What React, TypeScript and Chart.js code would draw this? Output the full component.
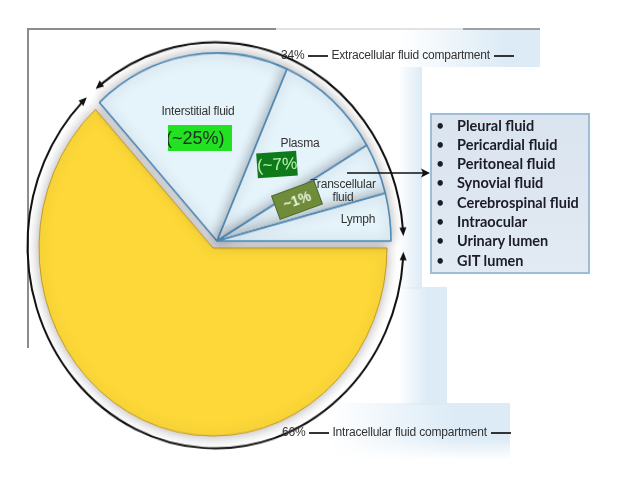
import React, { useEffect, useRef } from "react";
import { Chart, registerables } from "chart.js";

Chart.register(...registerables);

// ---- data ----
const compartments = ["Intracellular fluid", "Interstitial fluid", "Plasma", "Transcellular fluid", "Lymph"];
const sliceShares = [63.2, 18.4, 9.9, 4.4, 4.1];
const isExtracellular = [false, true, true, true, true];
const compartmentTotals = ["34%", "66%"];
const compartmentTitles = ["Extracellular fluid compartment", "Intracellular fluid compartment"];
const badgeTexts = ["(~25%)", "(~7%", "~1%"];
const transcellularFluids = [
  "Pleural fluid",
  "Pericardial fluid",
  "Peritoneal fluid",
  "Synovial fluid",
  "Cerebrospinal fluid",
  "Intraocular",
  "Urinary lumen",
  "GIT lumen",
];

// ---- style ----
const SIZE = 420;
const RADIUS = 174;
const STRETCH = 1.08;
const YELLOW = "#fdd838";
const YELLOW_LINE = "#c49a22";
const BLUE_FILL = "#e5f3fb";
const BLUE_LINE = "#4f89b4";
const SANS = '"Liberation Sans", Arial, Helvetica, sans-serif';
const BOLD = 'Lato, "Open Sans", sans-serif';

const arcPlugin = {
  id: "compartmentArcs",
  beforeDatasetsDraw(chart: any) {
    const ctx = chart.ctx;
    ctx.save();
    ctx.shadowColor = "rgba(60,60,70,0.4)";
    ctx.shadowBlur = 12;
    ctx.shadowOffsetX = 0;
    ctx.shadowOffsetY = 0;
  },
  afterDatasetsDraw(chart: any, _args: any, opts: any) {
    const ctx = chart.ctx;
    ctx.restore();
    if (!opts || !opts.arcs) return;
    const ca = chart.chartArea;
    const cx = (ca.left + ca.right) / 2 + 2.5;
    const cy = (ca.top + ca.bottom) / 2 - 2.5;
    const r = 188;
    const deg = Math.PI / 180;
    const ranges = [
      [-129.6, -2.6],
      [1.8, 226.8],
    ];
    ctx.save();
    ctx.strokeStyle = "#111";
    ctx.fillStyle = "#111";
    ctx.lineWidth = 2;
    const head = (a: number, dir: number) => {
      const tx = cx + r * Math.cos(a);
      const ty = cy + r * Math.sin(a);
      const dx = -Math.sin(a) * dir;
      const dy = Math.cos(a) * dir;
      const len = 8;
      const hw = 3.5;
      const bx = tx - dx * len;
      const by = ty - dy * len;
      const nx = Math.cos(a);
      const ny = Math.sin(a);
      ctx.beginPath();
      ctx.moveTo(tx, ty);
      ctx.lineTo(bx + nx * hw, by + ny * hw);
      ctx.lineTo(bx - nx * hw, by - ny * hw);
      ctx.closePath();
      ctx.fill();
    };
    for (const [a0, a1] of ranges) {
      const h = 6 / r;
      ctx.beginPath();
      ctx.arc(cx, cy, r, a0 * deg + h, a1 * deg - h);
      ctx.stroke();
      head(a0 * deg, -1);
      head(a1 * deg, 1);
    }
    ctx.restore();
  },
};

function makeChart(canvas: HTMLCanvasElement, extra: boolean) {
  const pick = (e: boolean, a: any, b: any, none: any) => (e === extra ? (e ? a : b) : none);
  return new Chart(canvas, {
    type: "pie",
    data: {
      labels: compartments,
      datasets: [
        {
          data: sliceShares,
          backgroundColor: isExtracellular.map((e) => pick(e, BLUE_FILL, YELLOW, "rgba(0,0,0,0)")),
          borderColor: isExtracellular.map((e) => pick(e, BLUE_LINE, YELLOW_LINE, "rgba(0,0,0,0)")),
          borderWidth: isExtracellular.map((e) => pick(e, 1.6, 1, 0)),
          radius: RADIUS,
        } as any,
      ],
    },
    options: {
      responsive: false,
      animation: false,
      events: [],
      rotation: 90,
      layout: { padding: 0 },
      plugins: {
        legend: { display: false },
        tooltip: { enabled: false },
        compartmentArcs: { arcs: !extra },
      } as any,
    },
    plugins: [arcPlugin as any],
  });
}

const abs = (s: React.CSSProperties): React.CSSProperties => ({ position: "absolute", ...s });

function Label({ x, y, text }: { x: number; y: number; text: string }) {
  return (
    <div
      style={abs({
        left: x,
        top: y,
        transform: "translate(-50%, -50%)",
        fontFamily: SANS,
        fontSize: 12,
        letterSpacing: -0.2,
        lineHeight: 1,
        color: "#333",
        whiteSpace: "nowrap",
      })}
    >
      {text}
    </div>
  );
}

function TitleRow({ x, top, pct, title }: { x: number; top: number; pct: string; title: string }) {
  const line: React.CSSProperties = {
    display: "inline-block",
    width: 20,
    height: 1.5,
    background: "#333",
    verticalAlign: "middle",
    margin: "0 3px 0 4px",
  };
  return (
    <div
      style={abs({
        left: x,
        top,
        fontFamily: SANS,
        fontSize: 12,
        letterSpacing: -0.2,
        lineHeight: "13px",
        color: "#333",
        whiteSpace: "nowrap",
      })}
    >
      <span>{pct}</span>
      <span style={line} />
      <span>{title}</span>
      <span style={line} />
    </div>
  );
}

export default function App() {
  const yRef = useRef<HTMLCanvasElement>(null);
  const bRef = useRef<HTMLCanvasElement>(null);

  useEffect(() => {
    const c1 = makeChart(yRef.current as HTMLCanvasElement, false);
    const c2 = makeChart(bRef.current as HTMLCanvasElement, true);
    return () => {
      c1.destroy();
      c2.destroy();
    };
  }, []);

  const wrap = (left: number, top: number): React.CSSProperties =>
    abs({
      left,
      top,
      width: SIZE,
      height: SIZE,
      transform: `scaleY(${STRETCH})`,
      transformOrigin: `${SIZE / 2}px ${SIZE / 2}px`,
    });

  const pale = "#dcebf6";
  return (
    <div style={{ position: "fixed", left: 0, top: 0, width: 638, height: 478, background: "#fff", overflow: "hidden" }}>
      {/* background panels */}
      <div style={abs({ left: 400, top: 29, width: 140, height: 38, background: `linear-gradient(to right, rgba(220,235,246,0), ${pale} 75%)` })} />
      <div style={abs({ left: 398, top: 67, width: 24, height: 222, background: `linear-gradient(to right, rgba(220,235,246,0), ${pale})` })} />
      <div style={abs({ left: 398, top: 287, width: 49, height: 118, background: `linear-gradient(to right, rgba(220,235,246,0), ${pale} 60%)` })} />
      <div style={abs({ left: 330, top: 403, width: 180, height: 57, background: `linear-gradient(to right, rgba(220,235,246,0), ${pale} 70%)` })} />
      <div style={abs({ left: 330, top: 438, width: 180, height: 22, background: "linear-gradient(to bottom, rgba(255,255,255,0), #fff)" })} />
      {/* frame lines */}
      <div style={abs({ left: 28, top: 28, width: 248, height: 1.5, background: "#8c8c8c" })} />
      <div style={abs({ left: 276, top: 28, width: 187, height: 1.5, background: "#e2e2e2" })} />
      <div style={abs({ left: 463, top: 28, width: 77, height: 1.5, background: "#a0a0a0" })} />
      <div style={abs({ left: 27, top: 28, width: 1.5, height: 320, background: "#8c8c8c" })} />

      {/* charts */}
      <div style={wrap(3, 38)}>
        <canvas ref={yRef} width={SIZE} height={SIZE} />
      </div>
      <div style={wrap(7, 31)}>
        <canvas ref={bRef} width={SIZE} height={SIZE} />
      </div>

      {/* slice labels */}
      <Label x={198} y={110.5} text={compartments[1]} />
      <Label x={300} y={142.5} text={compartments[2]} />
      <Label x={343} y={183.5} text="Transcellular" />
      <Label x={343} y={196.5} text="fluid" />
      <Label x={358} y={218.5} text={compartments[4]} />

      {/* badges */}
      <div
        style={abs({
          left: 168,
          top: 125,
          width: 64,
          height: 26,
          background: "#22e022",
          overflow: "hidden",
          fontFamily: SANS,
          fontSize: 18,
          lineHeight: "26px",
          color: "#1c2e1c",
          whiteSpace: "nowrap",
          textIndent: -2,
        })}
      >
        {badgeTexts[0]}
      </div>
      <div
        style={abs({
          left: 257,
          top: 152,
          width: 40,
          height: 25,
          background: "#0f7a1a",
          overflow: "hidden",
          fontFamily: SANS,
          fontSize: 17,
          lineHeight: "25px",
          color: "#bdf0b6",
          whiteSpace: "nowrap",
          transform: "rotate(-4deg)",
        })}
      >
        {badgeTexts[1]}
      </div>
      <div
        style={abs({
          left: 297 - 23,
          top: 200 - 13,
          width: 46,
          height: 26,
          background: "#6e8c3a",
          border: "1px solid #4e6628",
          boxSizing: "border-box",
          fontFamily: SANS,
          fontSize: 14,
          fontWeight: 700,
          lineHeight: "24px",
          color: "#eef4e0",
          textAlign: "center",
          whiteSpace: "nowrap",
          transform: "rotate(-20deg)",
        })}
      >
        {badgeTexts[2]}
      </div>

      {/* compartment titles */}
      <TitleRow x={281} top={49} pct={compartmentTotals[0]} title={compartmentTitles[0]} />
      <TitleRow x={282} top={426} pct={compartmentTotals[1]} title={compartmentTitles[1]} />

      {/* arrow to list */}
      <svg style={abs({ left: 0, top: 0 })} width={638} height={478}>
        <line x1={347} y1={173} x2={423} y2={173} stroke="#111" strokeWidth={1.6} />
        <polygon points="430,173 421,168.5 423,173 421,177.5" fill="#111" />
      </svg>

      {/* list box */}
      <div
        style={abs({
          left: 430,
          top: 113,
          width: 160,
          height: 161,
          boxSizing: "border-box",
          background: "linear-gradient(to bottom, #dae4ef, #e2eaf3)",
          border: "2px solid #9bbdd7",
        })}
      />
      <div style={abs({ left: 436, top: 115.5, fontFamily: BOLD, fontWeight: 700, fontSize: 14.5, lineHeight: "19.3px", color: "#1c1c28" })}>
        {transcellularFluids.map((t) => (
          <div key={t} style={{ whiteSpace: "nowrap" }}>
            <span style={{ display: "inline-block", width: 21, fontWeight: 400 }}>•</span>
            {t}
          </div>
        ))}
      </div>
    </div>
  );
}
